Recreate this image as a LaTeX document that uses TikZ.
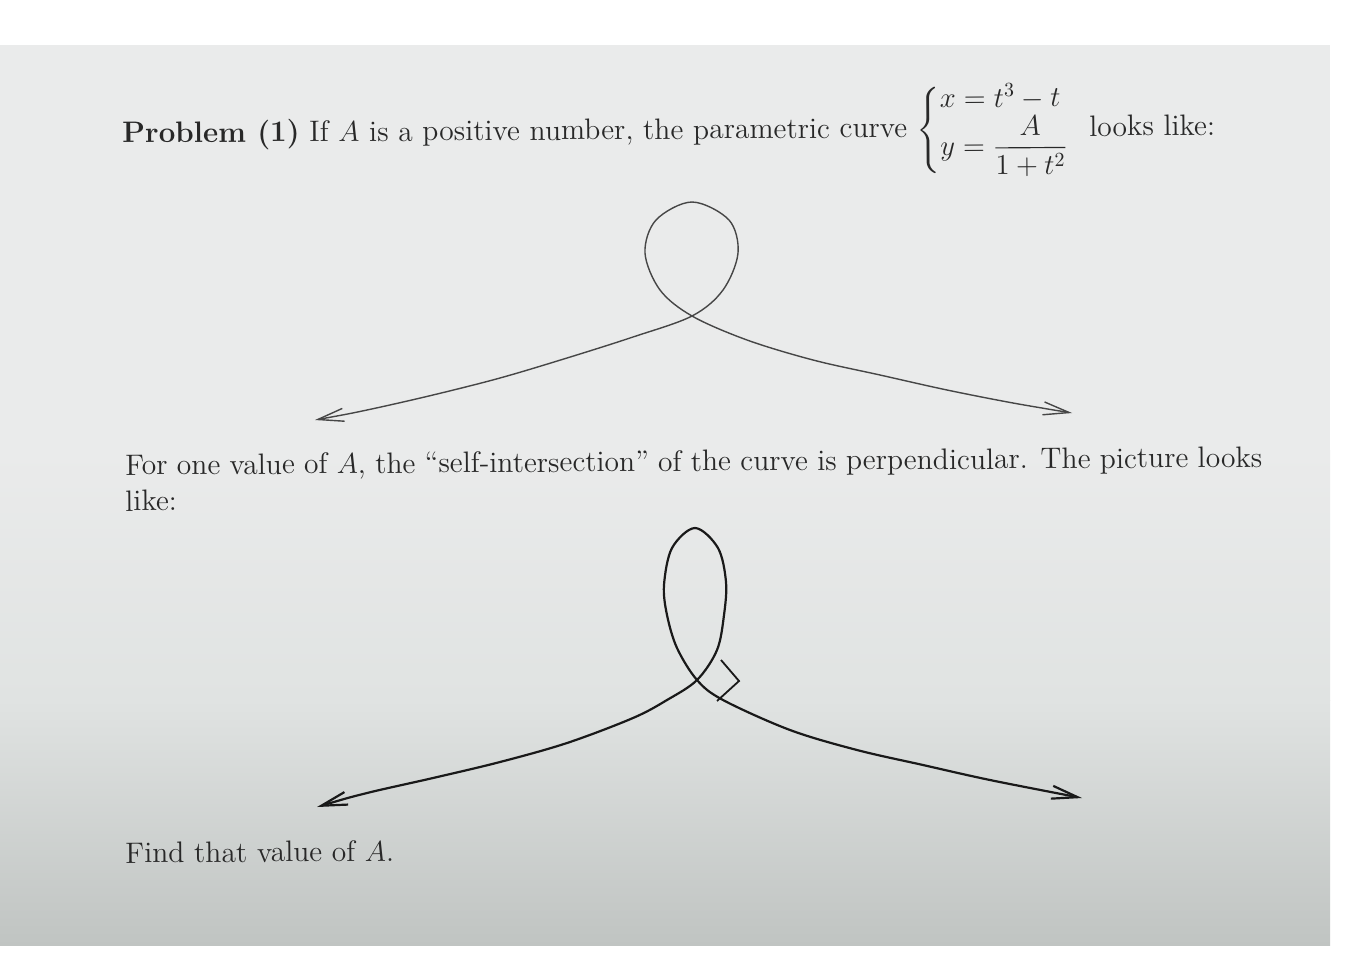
\documentclass[tikz,border=0pt]{standalone}
\usepackage{amsmath}
\usetikzlibrary{arrows.meta}
\definecolor{paper}{RGB}{234,235,235}
\definecolor{papermid}{RGB}{224,227,226}
\definecolor{paperlow}{RGB}{192,196,194}
\definecolor{ink}{RGB}{40,40,40}
\definecolor{inklight}{RGB}{70,70,70}
\definecolor{inkdark}{RGB}{25,25,25}
\tikzset{
  txt/.style={anchor=base west, inner sep=0pt, text=ink, font=\fontsize{14.8}{17.8}\selectfont, rotate=0.4},
  barb/.tip={Straight Barb[length=13pt,width=6.5pt]},
  curveA/.style={draw=inklight, line width=0.7pt, barb-barb},
  curveB/.style={draw=inkdark, line width=1.1pt, barb-barb},
  rmark/.style={draw=inkdark, line width=0.9pt}
}
\begin{document}
\begin{tikzpicture}[x=0.5pt,y=-0.5pt]
\useasboundingbox (0,0) rectangle (1358,958);
\fill[white] (0,0) rectangle (1358,958);
\fill[paper] (0,45) rectangle (1330,945);
\shade[top color=paper,bottom color=papermid] (0,450) rectangle (1330,700);
\shade[top color=papermid,bottom color=paperlow] (0,700) rectangle (1330,945);

% texts
\node[txt] (p1) at (122,143) {\textbf{Problem (1)} If $A$ is a positive number, the parametric curve $\left\{\begin{array}{@{}l@{}} x = t^3-t\\[-1pt] y=\dfrac{A}{1+t^2}\end{array}\right.$\ \ looks like:};
\node[txt] (p2) at (125,475) {\makebox[568.5pt][s]{For one value of $A$, the ``self-intersection'' of the curve is perpendicular. The picture looks}};
\node[txt] (p3) at (125,511) {like:};
\node[txt] (p4) at (125,863) {Find that value of $A$.};

% upper curve
\draw[curveA] plot[smooth, tension=0.55] coordinates {
 (315,420) (367,410) (433,395) (500,378) (567,358) (633,337) (692,316)
 (723,290) (738,253) (729,220) (692,202) (656,220) (645,253) (660,290) (692,316)
 (747,340) (813,360) (880,375) (947,390) (1013,403) (1072,413)};

% lower curve
\draw[curveB] plot[smooth, tension=0.55] coordinates {
 (317,807) (367,793) (433,778) (500,762) (567,743) (633,718) (667,700) (697,680)
 (717,650) (724,615) (726,582) (718,548) (695,528) (672,548) (664,585) (667,615) (677,648) (697,680)
 (723,700) (790,730) (857,750) (923,765) (990,780) (1082,798)};

% right-angle mark
\draw[rmark] (721,660) -- (739,681) -- (717,701);
\end{tikzpicture}
\end{document}
